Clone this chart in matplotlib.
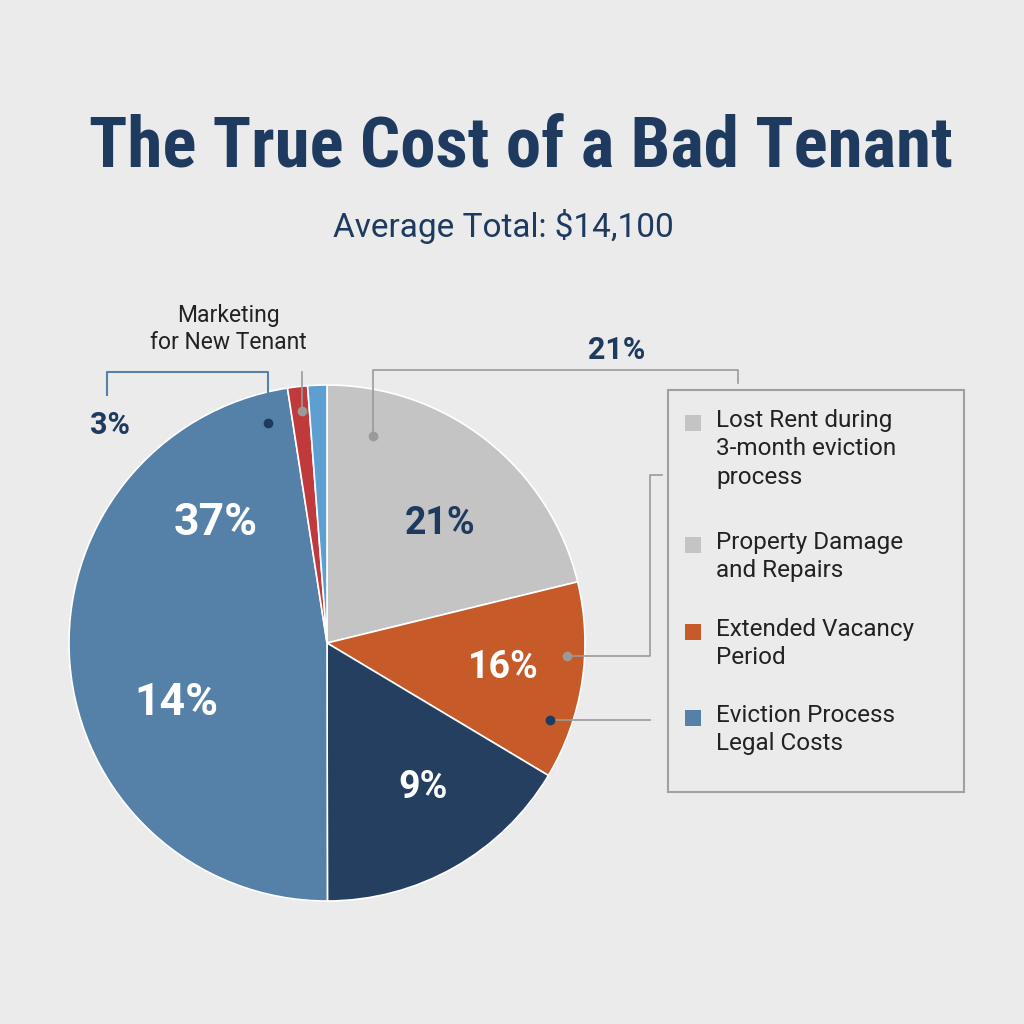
import matplotlib
matplotlib.use("Agg")
import matplotlib.pyplot as plt
from matplotlib.patches import Rectangle

categories = ["Lost Rent", "Extended Vacancy", "Eviction Legal", "Property Damage", "Marketing", "Other"]
values = [21.2, 12.4, 16.4, 47.6, 1.25, 1.2]
colors = ["#c4c4c4", "#c65a28", "#243f60", "#5580a8", "#c0393b", "#5d9fd0"]
legend_labels = ["Lost Rent during\n3-month eviction\nprocess", "Property Damage\nand Repairs",
                 "Extended Vacancy\nPeriod", "Eviction Process\nLegal Costs"]
legend_colors = ["#c4c4c4", "#c4c4c4", "#c65a28", "#5580a8"]

NAVY = "#1f3a5f"
BG = "#ebebeb"
FONT = ["Roboto", "DejaVu Sans"]
plt.rcParams['font.family'] = FONT

fig = plt.figure(figsize=(10.24, 10.24), dpi=100, facecolor=BG)
ax = fig.add_axes([0, 0, 1, 1])
Y = lambda y: 1024 - y

wedges, _ = ax.pie(values, colors=colors, startangle=90, counterclock=False,
                   center=(327, Y(643)), radius=258, frame=True,
                   wedgeprops=dict(edgecolor="white", linewidth=1.2))
ax.set_xlim(0, 1024); ax.set_ylim(0, 1024); ax.set_aspect('equal'); ax.axis('off')

ax.text(521, Y(147), "The True Cost of a Bad Tenant", ha='center', va='center', fontsize=51,
        fontweight='bold', color=NAVY, family=["Roboto Condensed", "Roboto"])
ax.text(503, Y(226), "Average Total: $14,100", ha='center', va='center', fontsize=24, color=NAVY)

ax.text(440, Y(523), "21%", ha='center', va='center', fontsize=27, fontweight='bold', color=NAVY)
ax.text(503, Y(667), "16%", ha='center', va='center', fontsize=27, fontweight='bold', color='white')
ax.text(423, Y(787), "9%", ha='center', va='center', fontsize=27, fontweight='bold', color='white')
ax.text(216, Y(523), "37%", ha='center', va='center', fontsize=32, fontweight='bold', color='white')
ax.text(176, Y(703), "14%", ha='center', va='center', fontsize=32, fontweight='bold', color='white')

lc = "#9a9a9a"
ax.plot([373, 373, 738, 738], [Y(436), Y(370), Y(370), Y(383)], color=lc, lw=1.2)
ax.plot([373], [Y(436)], 'o', color=lc, ms=6)
ax.text(617, Y(350), "21%", ha='center', va='center', fontsize=22, fontweight='bold', color=NAVY)
ax.plot([567, 650, 650, 662], [Y(656), Y(656), Y(475), Y(475)], color=lc, lw=1.2)
ax.plot([567], [Y(656)], 'o', color=lc, ms=6)
ax.plot([550, 650], [Y(720), Y(720)], color=lc, lw=1.2)
ax.plot([550], [Y(720)], 'o', color=NAVY, ms=6)
ax.plot([107, 107, 268, 268], [Y(395), Y(372), Y(372), Y(423)], color="#5580a8", lw=1.5)
ax.plot([268], [Y(423)], 'o', color=NAVY, ms=6)
ax.plot([302, 302], [Y(411), Y(372)], color=lc, lw=1.2)
ax.plot([302], [Y(411)], 'o', color=lc, ms=6)
ax.text(110, Y(425), "3%", ha='center', va='center', fontsize=22, fontweight='bold', color=NAVY)
ax.text(228, Y(329), "Marketing\nfor New Tenant", ha='center', va='center', fontsize=16.5,
        color="#222222", linespacing=1.2)

ax.add_patch(Rectangle((668, Y(792)), 296, 402, fill=False, edgecolor="#a0a0a0", lw=1.5))
rows = [423, 545, 632, 718]
for yy, lab, col in zip(rows, legend_labels, legend_colors):
    ax.add_patch(Rectangle((685, Y(yy) - 8), 16, 16, facecolor=col, edgecolor='none'))
    ax.text(716, Y(yy) + 14, lab, ha='left', va='top', fontsize=17.5, color="#222222",
            linespacing=1.3)

fig.savefig("out.png", dpi=100, facecolor=BG)
